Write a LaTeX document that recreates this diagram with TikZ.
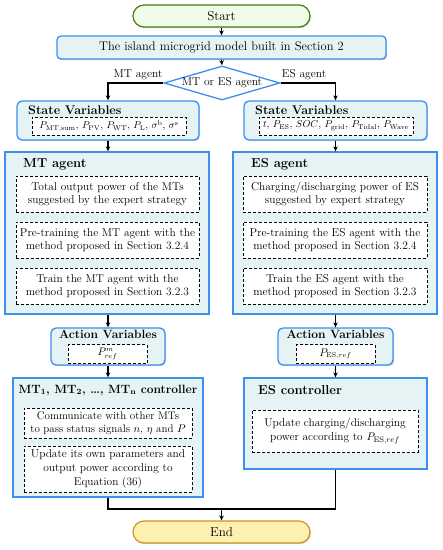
\documentclass[tikz,border=0pt]{standalone}
\usetikzlibrary{shapes.geometric,arrows.meta,shadows}
\definecolor{myblue}{HTML}{3D8EF0}
\definecolor{myfill}{HTML}{E5F3F5}
\definecolor{stfill}{HTML}{F2FAE8}
\definecolor{stdraw}{HTML}{3F7F1F}
\definecolor{enfill}{HTML}{FEF0B0}
\definecolor{endraw}{HTML}{C9961E}
\tikzset{
  shad/.style={drop shadow={shadow xshift=1pt,shadow yshift=-1.2pt,opacity=0.35,fill=gray}},
  bluebox/.style={draw=myblue,line width=1.3pt,fill=myfill,shad,inner sep=0pt},
  rbox/.style={bluebox,rounded corners=5pt},
  dbox/.style={draw=black,dash pattern=on 3pt off 2pt,line width=0.8pt,fill=white,align=center,inner sep=0pt,font=\fontsize{11.4}{13.6}\selectfont},
  ttl/.style={font=\fontsize{12.5}{14}\selectfont\bfseries,inner sep=0pt},
  pill/.style={rounded corners=11pt,line width=1.2pt,shad,inner sep=0pt,font=\fontsize{13}{15}\selectfont},
  arr/.style={-{Stealth[length=5pt,width=4.5pt]},line width=1.1pt},
  ln/.style={line width=1.1pt},
  lbl/.style={font=\fontsize{11.5}{13}\selectfont,inner sep=0pt}
}
\begin{document}
\begin{tikzpicture}[x=1pt,y=-1pt]
\useasboundingbox (0,0) rectangle (443,550);
% start
\node[pill,draw=stdraw,fill=stfill,minimum width=177pt,minimum height=22pt] (start) at (221.5,16) {Start};
\node[rbox,rounded corners=4pt,minimum width=329pt,minimum height=23pt,font=\fontsize{12.5}{15}\selectfont] (island) at (221.5,47.5) {The island microgrid model built in Section 2};
\node[diamond,draw=myblue,line width=1.3pt,fill=white,minimum width=104pt,minimum height=30pt,inner sep=0pt,aspect=3.4,font=\fontsize{11.5}{13}\selectfont] (dia) at (222,83) {MT or ES agent};
\node[lbl] (lblL) at (138,75) {MT agent};
\node[lbl] (lblR) at (304,75) {ES agent};
% state variables
\node[rbox,minimum width=182pt,minimum height=39pt] (stL) at (108,120.5) {};
\node[ttl,anchor=west] (stLt) at (28,110) {State Variables};
\node[dbox,minimum width=154pt,minimum height=18pt,font=\fontsize{10.2}{12}\selectfont] (stLd) at (109,126)
  {$P_{\mathrm{MT,sum}}$, $P_{\mathrm{PV}}$, $P_{\mathrm{WT}}$, $P_{\mathrm{L}}$, $\sigma^{\mathrm{b}}$, $\sigma^{\mathrm{s}}$};
\node[rbox,minimum width=183pt,minimum height=39pt] (stR) at (335.5,120.5) {};
\node[ttl,anchor=west] (stRt) at (255,110) {State Variables};
\node[dbox,minimum width=154pt,minimum height=18pt,font=\fontsize{10.2}{12}\selectfont] (stRd) at (336,126)
  {$t$, $P_{\mathrm{ES}}$, $SOC$, $P_{\mathrm{grid}}$, $P_{\mathrm{Tidal}}$, $P_{\mathrm{Wave}}$};
% agents
\node[bluebox,minimum width=204pt,minimum height=162pt] (mta) at (107,233) {};
\node[ttl,anchor=west,font=\fontsize{13}{15}\selectfont\bfseries] (mtat) at (23,164) {MT agent};
\node[dbox,minimum width=183pt,minimum height=36pt] (mta1) at (107.5,194) {Total output power of the MTs\\suggested by the expert strategy};
\node[dbox,minimum width=183pt,minimum height=36pt] (mta2) at (107.5,240) {Pre-training the MT agent with the\\method proposed in Section 3.2.4};
\node[dbox,minimum width=183pt,minimum height=36pt] (mta3) at (107.5,286) {Train the MT agent with the\\method proposed in Section 3.2.3};
\node[bluebox,minimum width=204pt,minimum height=162pt] (esa) at (335,233) {};
\node[ttl,anchor=west,font=\fontsize{13}{15}\selectfont\bfseries] (esat) at (251,164) {ES agent};
\node[dbox,minimum width=184pt,minimum height=36pt] (esa1) at (335,194) {Charging/discharging power of ES\\suggested by expert strategy};
\node[dbox,minimum width=184pt,minimum height=36pt] (esa2) at (335,240) {Pre-training the ES agent with the\\method proposed in Section 3.2.4};
\node[dbox,minimum width=184pt,minimum height=36pt] (esa3) at (335,286) {Train the ES agent with the\\method proposed in Section 3.2.3};
% action variables
\node[rbox,minimum width=114pt,minimum height=37pt] (acL) at (108,346.5) {};
\node[ttl,font=\fontsize{12}{14}\selectfont\bfseries] (acLt) at (108,334) {Action Variables};
\node[dbox,minimum width=79pt,minimum height=19pt,font=\fontsize{10.5}{12}\selectfont] (acLd) at (107.5,354) {$P^{m}_{ref}$};
\node[rbox,minimum width=115pt,minimum height=37pt] (acR) at (335.5,346.5) {};
\node[ttl,font=\fontsize{12}{14}\selectfont\bfseries] (acRt) at (335.5,334) {Action Variables};
\node[dbox,minimum width=79pt,minimum height=19pt,font=\fontsize{10.5}{12}\selectfont] (acRd) at (335.5,354) {$P_{\mathrm{ES},ref}$};
% controllers
\node[bluebox,minimum width=190pt,minimum height=119pt] (mtc) at (108,437.5) {};
\node[ttl,font=\fontsize{12}{14}\selectfont\bfseries] (mtct) at (108,390) {MT$_{\mathbf{1}}$, MT$_{\mathbf{2}}$, \dots, MT$_{\mathbf{n}}$ controller};
\node[dbox,minimum width=168pt,minimum height=30pt,font=\fontsize{11}{13.2}\selectfont] (mtc1) at (108,423) {Communicate with other MTs\\to pass status signals $n$, $\eta$ and $P$};
\node[dbox,minimum width=168pt,minimum height=46pt] (mtc2) at (108,469) {Update its own parameters and\\output power according to\\Equation (36)};
\node[bluebox,minimum width=183pt,minimum height=91pt] (esc) at (335.5,423.5) {};
\node[ttl,anchor=west,font=\fontsize{13}{15}\selectfont\bfseries] (esct) at (258,390) {ES controller};
\node[dbox,minimum width=166pt,minimum height=42pt] (esc1) at (335,431) {Update charging/discharging\\power according to $P_{\mathrm{ES},ref}$};
% end
\node[pill,draw=endraw,fill=enfill,minimum width=177pt,minimum height=22pt] (end) at (221.5,532) {End};
\coordinate (j) at (221.5,509);
% connectors
\draw[arr] (start.south) -- (island.north);
\draw[arr] (island.south) -- (dia.north);
\draw[arr] (dia.west) -| (stL.north);
\draw[arr] (dia.east) -| (stR.north);
\draw[arr] (stL.south) -- (mta.north -| stL.south);
\draw[arr] (stR.south) -- (esa.north -| stR.south);
\draw[arr] (mta.south -| acL.north) -- (acL.north);
\draw[arr] (esa.south -| acR.north) -- (acR.north);
\draw[arr] (acL.south) -- (mtc.north -| acL.south);
\draw[arr] (acR.south) -- (esc.north -| acR.south);
\draw[ln] (mtc.south) |- (j);
\draw[ln] (esc.south) |- (j);
\draw[arr] (j) -- (end.north);
\end{tikzpicture}
\end{document}
